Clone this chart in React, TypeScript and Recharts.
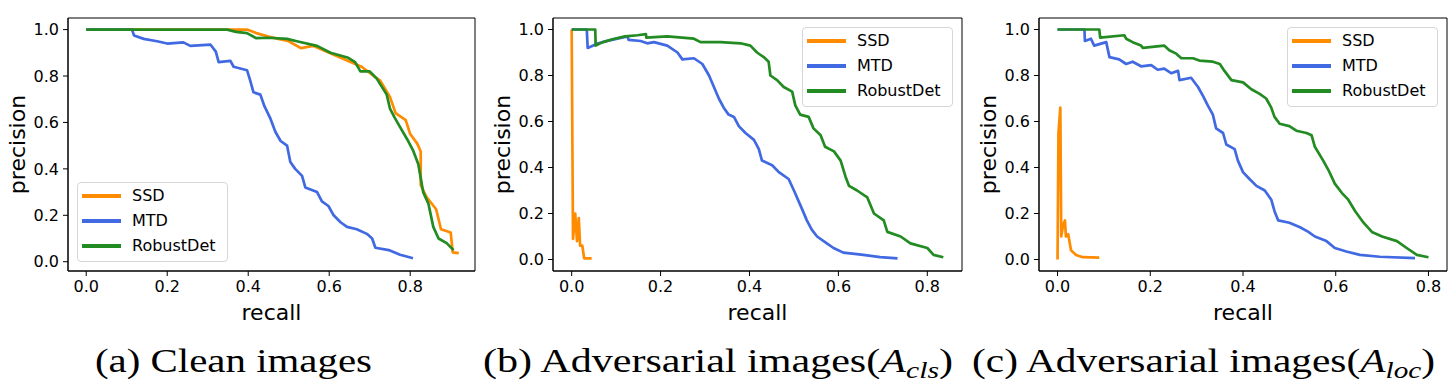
import React from "react";
import { LineChart, Line, XAxis, YAxis, Legend, ReferenceArea } from "recharts";

const SSD_COLOR = "#ff8c00";
const MTD_COLOR = "#4169e1";
const ROBUST_COLOR = "#228b22";
const SANS = "DejaVu Sans";
const SERIF = "'Liberation Serif', 'Times New Roman', serif";

const xTicks = [0, 0.2, 0.4, 0.6, 0.8];
const yTicks = [0, 0.2, 0.4, 0.6, 0.8, 1.0];

// (a) clean images
const cleanSsdRecall = [0, 0.35, 0.397, 0.42, 0.45, 0.5, 0.53, 0.56, 0.6, 0.64, 0.68, 0.71, 0.726, 0.75, 0.764, 0.789, 0.8, 0.817, 0.826, 0.826, 0.84, 0.864, 0.876, 0.9, 0.905, 0.92];
const cleanSsdPrecision = [1, 1, 1, 0.985, 0.97, 0.95, 0.92, 0.93, 0.9, 0.87, 0.84, 0.8, 0.78, 0.71, 0.64, 0.61, 0.55, 0.51, 0.475, 0.33, 0.28, 0.226, 0.14, 0.126, 0.04, 0.037];
const cleanMtdRecall = [0, 0.113, 0.118, 0.142, 0.175, 0.2, 0.24, 0.257, 0.307, 0.32, 0.327, 0.356, 0.364, 0.397, 0.405, 0.413, 0.43, 0.44, 0.454, 0.467, 0.48, 0.496, 0.504, 0.516, 0.533, 0.541, 0.57, 0.582, 0.598, 0.611, 0.628, 0.644, 0.668, 0.693, 0.706, 0.714, 0.747, 0.775, 0.807];
const cleanMtdPrecision = [1, 1, 0.975, 0.96, 0.95, 0.94, 0.945, 0.93, 0.935, 0.905, 0.86, 0.865, 0.84, 0.825, 0.78, 0.73, 0.72, 0.67, 0.62, 0.56, 0.52, 0.5, 0.43, 0.4, 0.37, 0.32, 0.3, 0.26, 0.24, 0.2, 0.17, 0.15, 0.14, 0.12, 0.1, 0.06, 0.05, 0.03, 0.015];
const cleanRobustRecall = [0, 0.348, 0.37, 0.397, 0.42, 0.45, 0.496, 0.52, 0.57, 0.603, 0.645, 0.664, 0.677, 0.7, 0.717, 0.742, 0.75, 0.762, 0.775, 0.795, 0.807, 0.82, 0.832, 0.845, 0.857, 0.87, 0.89, 0.907];
const cleanRobustPrecision = [1, 1, 0.99, 0.985, 0.963, 0.965, 0.96, 0.95, 0.93, 0.9, 0.88, 0.86, 0.82, 0.82, 0.79, 0.72, 0.66, 0.62, 0.58, 0.52, 0.48, 0.42, 0.3, 0.25, 0.15, 0.1, 0.08, 0.05];

// (b) adversarial images, A_cls
const clsSsdRecall = [0, 0.003, 0.008, 0.012, 0.016, 0.019, 0.024, 0.028, 0.045];
const clsSsdPrecision = [1, 0.09, 0.2, 0.08, 0.18, 0.06, 0.06, 0.005, 0.005];
const clsMtdRecall = [0, 0.034, 0.036, 0.06, 0.09, 0.126, 0.128, 0.155, 0.17, 0.185, 0.215, 0.238, 0.249, 0.275, 0.294, 0.309, 0.32, 0.331, 0.342, 0.353, 0.365, 0.376, 0.391, 0.41, 0.421, 0.428, 0.451, 0.466, 0.488, 0.5, 0.518, 0.529, 0.54, 0.552, 0.574, 0.589, 0.611, 0.656, 0.694, 0.733];
const clsMtdPrecision = [1, 1, 0.92, 0.94, 0.955, 0.97, 0.955, 0.95, 0.94, 0.945, 0.93, 0.9, 0.87, 0.875, 0.85, 0.8, 0.75, 0.7, 0.66, 0.63, 0.62, 0.58, 0.55, 0.52, 0.48, 0.43, 0.41, 0.38, 0.35, 0.3, 0.22, 0.17, 0.13, 0.1, 0.07, 0.05, 0.03, 0.02, 0.01, 0.005];
const clsRobustRecall = [0, 0.053, 0.054, 0.07, 0.096, 0.12, 0.148, 0.167, 0.168, 0.215, 0.275, 0.29, 0.335, 0.38, 0.402, 0.417, 0.432, 0.443, 0.447, 0.462, 0.477, 0.496, 0.503, 0.514, 0.533, 0.544, 0.56, 0.57, 0.59, 0.605, 0.616, 0.624, 0.642, 0.665, 0.68, 0.702, 0.71, 0.74, 0.762, 0.8, 0.814, 0.836];
const clsRobustPrecision = [1, 1, 0.93, 0.945, 0.96, 0.97, 0.975, 0.98, 0.965, 0.97, 0.96, 0.945, 0.945, 0.94, 0.93, 0.9, 0.88, 0.86, 0.8, 0.78, 0.75, 0.73, 0.67, 0.63, 0.62, 0.57, 0.54, 0.49, 0.47, 0.43, 0.36, 0.32, 0.3, 0.27, 0.2, 0.17, 0.12, 0.1, 0.07, 0.05, 0.02, 0.01];

// (c) adversarial images, A_loc
const locSsdRecall = [0, 0.002, 0.006, 0.008, 0.012, 0.016, 0.018, 0.023, 0.029, 0.04, 0.054, 0.09];
const locSsdPrecision = [0, 0.55, 0.66, 0.1, 0.15, 0.17, 0.1, 0.11, 0.04, 0.02, 0.01, 0.008];
const locMtdRecall = [0, 0.058, 0.059, 0.072, 0.079, 0.105, 0.112, 0.133, 0.148, 0.162, 0.18, 0.202, 0.216, 0.23, 0.245, 0.26, 0.263, 0.288, 0.303, 0.314, 0.324, 0.335, 0.342, 0.357, 0.364, 0.382, 0.389, 0.4, 0.414, 0.429, 0.447, 0.461, 0.468, 0.476, 0.5, 0.523, 0.541, 0.555, 0.58, 0.598, 0.623, 0.652, 0.695, 0.771];
const locMtdPrecision = [1, 1, 0.95, 0.96, 0.93, 0.945, 0.88, 0.87, 0.85, 0.86, 0.84, 0.845, 0.825, 0.83, 0.81, 0.82, 0.78, 0.79, 0.75, 0.71, 0.67, 0.63, 0.57, 0.55, 0.5, 0.48, 0.43, 0.38, 0.35, 0.32, 0.3, 0.26, 0.21, 0.17, 0.16, 0.14, 0.12, 0.1, 0.08, 0.05, 0.035, 0.02, 0.012, 0.006];
const locRobustRecall = [0, 0.09, 0.092, 0.144, 0.148, 0.162, 0.18, 0.184, 0.23, 0.241, 0.256, 0.267, 0.292, 0.306, 0.335, 0.35, 0.36, 0.375, 0.4, 0.418, 0.436, 0.45, 0.461, 0.468, 0.479, 0.5, 0.515, 0.537, 0.548, 0.555, 0.573, 0.584, 0.598, 0.613, 0.627, 0.642, 0.66, 0.678, 0.7, 0.732, 0.753, 0.775, 0.8];
const locRobustPrecision = [1, 1, 0.965, 0.975, 0.96, 0.945, 0.93, 0.92, 0.93, 0.91, 0.895, 0.875, 0.875, 0.865, 0.86, 0.85, 0.82, 0.78, 0.77, 0.74, 0.72, 0.7, 0.66, 0.62, 0.59, 0.58, 0.56, 0.55, 0.54, 0.49, 0.43, 0.39, 0.33, 0.29, 0.26, 0.21, 0.16, 0.12, 0.1, 0.08, 0.05, 0.02, 0.01];

const zip = (recall: number[], precision: number[]) =>
  recall.map((r, i) => ({ recall: r, precision: precision[i] }));

const fmt = (v: number) => v.toFixed(1);

type Series = { name: string; color: string; data: { recall: number; precision: number }[] };

const makeSeries = (ssd: Series["data"], mtd: Series["data"], robust: Series["data"]): Series[] => [
  { name: "SSD", color: SSD_COLOR, data: ssd },
  { name: "MTD", color: MTD_COLOR, data: mtd },
  { name: "RobustDet", color: ROBUST_COLOR, data: robust },
];

function LegendBox({ series }: { series: Series[] }) {
  return (
    <div
      style={{
        position: "relative",
        width: 149,
        height: 78,
        border: "1px solid #d6d6d6",
        borderRadius: 4,
        background: "rgba(255,255,255,0.8)",
        fontFamily: SANS,
        fontSize: 16,
        color: "#000",
      }}
    >
      {series.map((s, i) => (
        <div
          key={s.name}
          style={{ position: "absolute", left: 4, top: 4 + i * 25, height: 18, display: "flex", alignItems: "center" }}
        >
          <span style={{ display: "inline-block", width: 39, height: 3.5, background: s.color }} />
          <span style={{ marginLeft: 11, lineHeight: "18px" }}>{s.name}</span>
        </div>
      ))}
    </div>
  );
}

interface PanelProps {
  left: number;
  width: number;
  marginRight: number;
  xDomain: [number, number];
  yDomain: [number, number];
  series: Series[];
  legendLeft: number;
  legendTop: number;
}

function PRPanel({ left, width, marginRight, xDomain, yDomain, series, legendLeft, legendTop }: PanelProps) {
  const tick = { fontSize: 16, fill: "#000", fontFamily: SANS };
  return (
    <div style={{ position: "absolute", left, top: 0 }}>
      <LineChart width={width} height={330} margin={{ top: 18, right: marginRight, left: 0, bottom: 0 }}>
        <XAxis
          dataKey="recall"
          type="number"
          domain={xDomain}
          allowDataOverflow
          ticks={xTicks}
          tickFormatter={fmt}
          tick={tick}
          tickSize={5}
          tickMargin={5}
          stroke="#000"
          height={59}
          label={{ value: "recall", position: "insideBottom", offset: 10, fontSize: 22, fill: "#000", fontFamily: SANS }}
        />
        <YAxis
          type="number"
          domain={yDomain}
          allowDataOverflow
          ticks={yTicks}
          tickFormatter={fmt}
          tick={tick}
          tickSize={5}
          tickMargin={4}
          stroke="#000"
          width={68}
          label={{ value: "precision", angle: -90, position: "center", dx: -17, fontSize: 22, fill: "#000", fontFamily: SANS }}
        />
        {/* axes frame */}
        <ReferenceArea
          x1={xDomain[0]}
          x2={xDomain[1]}
          y1={yDomain[0]}
          y2={yDomain[1]}
          fill="none"
          stroke="#000"
          strokeWidth={1}
          ifOverflow="visible"
        />
        {series.map((s) => (
          <Line
            key={s.name}
            data={s.data}
            dataKey="precision"
            name={s.name}
            type="linear"
            stroke={s.color}
            strokeWidth={2.7}
            strokeLinejoin="round"
            dot={false}
            isAnimationActive={false}
          />
        ))}
        <Legend
          layout="horizontal"
          verticalAlign="middle"
          align="center"
          content={() => <LegendBox series={series} />}
          wrapperStyle={{ left: legendLeft, top: legendTop, width: 151, height: 80 }}
        />
      </LineChart>
    </div>
  );
}

export default function App() {
  return (
    <div style={{ position: "absolute", left: 0, top: 0, width: 1452, height: 392, background: "#fff", overflow: "hidden" }}>
      <PRPanel
        left={0}
        width={480}
        marginRight={5}
        xDomain={[-0.045, 0.96]}
        yDomain={[-0.04, 1.05]}
        series={makeSeries(zip(cleanSsdRecall, cleanSsdPrecision), zip(cleanMtdRecall, cleanMtdPrecision), zip(cleanRobustRecall, cleanRobustPrecision))}
        legendLeft={77}
        legendTop={182}
      />
      <PRPanel
        left={485}
        width={480}
        marginRight={3}
        xDomain={[-0.042, 0.878]}
        yDomain={[-0.05, 1.05]}
        series={makeSeries(zip(clsSsdRecall, clsSsdPrecision), zip(clsMtdRecall, clsMtdPrecision), zip(clsRobustRecall, clsRobustPrecision))}
        legendLeft={317}
        legendTop={27}
      />
      <PRPanel
        left={971}
        width={481}
        marginRight={5}
        xDomain={[-0.04, 0.84]}
        yDomain={[-0.05, 1.05]}
        series={makeSeries(zip(locSsdRecall, locSsdPrecision), zip(locMtdRecall, locMtdPrecision), zip(locRobustRecall, locRobustPrecision))}
        legendLeft={316}
        legendTop={27}
      />
      <svg width={1452} height={392} style={{ position: "absolute", left: 0, top: 0, pointerEvents: "none" }}>
        <g style={{ fontFamily: SERIF }} fontSize={34} fill="#000">
          <text x={95} y={372} textLength={277} lengthAdjust="spacingAndGlyphs">
            (a) Clean images
          </text>
          <text x={483} y={372} textLength={470} lengthAdjust="spacingAndGlyphs">
            (b) Adversarial images(<tspan fontStyle="italic">A</tspan>
            <tspan fontStyle="italic" fontSize={24} dy={6}>cls</tspan>
            <tspan dy={-6}>)</tspan>
          </text>
          <text x={972} y={372} textLength={463} lengthAdjust="spacingAndGlyphs">
            (c) Adversarial images(<tspan fontStyle="italic">A</tspan>
            <tspan fontStyle="italic" fontSize={24} dy={6}>loc</tspan>
            <tspan dy={-6}>)</tspan>
          </text>
        </g>
      </svg>
    </div>
  );
}
